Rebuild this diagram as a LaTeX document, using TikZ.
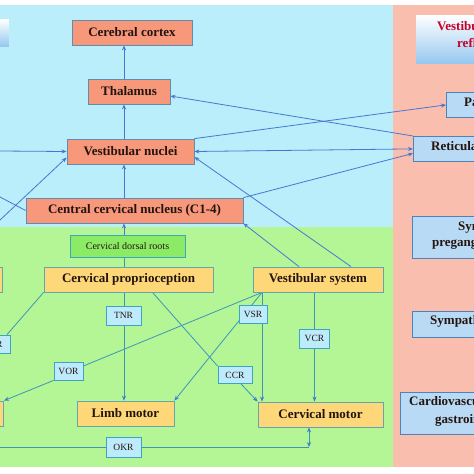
\documentclass[tikz,border=0pt]{standalone}
\usepackage{fontspec}
\setmainfont{Liberation Serif}
\usetikzlibrary{arrows.meta,calc}
\pgfdeclarelayer{back}
\pgfdeclarelayer{lines}
\pgfsetlayers{back,lines,main}
\definecolor{bgblue}{RGB}{185,238,250}
\definecolor{bggreen}{RGB}{180,245,150}
\definecolor{bgsalmon}{RGB}{250,190,175}
\definecolor{salfill}{RGB}{248,152,122}
\definecolor{salborder}{RGB}{95,140,175}
\definecolor{yfill}{RGB}{253,215,120}
\definecolor{yborder}{RGB}{100,165,175}
\definecolor{tagfill}{RGB}{190,235,252}
\definecolor{tagborder}{RGB}{60,165,195}
\definecolor{cdrfill}{RGB}{140,235,100}
\definecolor{rfill}{RGB}{185,218,245}
\definecolor{rborder}{RGB}{80,130,185}
\definecolor{titleblue}{RGB}{150,200,240}
\definecolor{titlered}{RGB}{200,0,40}
\definecolor{ucol}{RGB}{70,120,210}
\definecolor{lcol}{RGB}{60,150,185}
\definecolor{txt}{RGB}{35,20,15}
\begin{document}
\begin{tikzpicture}[x=1pt,y=-1pt,
  box/.style={draw, line width=0.8pt, inner sep=0pt, text=txt,
    font=\fontsize{13}{15}\selectfont\bfseries},
  snode/.style={box, fill=salfill, draw=salborder},
  ynode/.style={box, fill=yfill, draw=yborder},
  tag/.style={draw=tagborder, fill=tagfill, line width=0.8pt, inner sep=0pt,
    text=txt, font=\fontsize{9.5}{11}\selectfont},
  rbox/.style={draw=rborder, fill=rfill, line width=0.8pt, inner sep=0pt, anchor=north west},
  rtext/.style={anchor=mid west, inner sep=0pt, text=txt,
    font=\fontsize{13}{15}\selectfont\bfseries},
  ttext/.style={rtext, text=titlered},
  uline/.style={draw=ucol, line width=0.8pt},
  uarr/.style={uline, -{Stealth[length=5pt,width=4pt]}},
  udarr/.style={uline, {Stealth[length=5pt,width=4pt]}-{Stealth[length=5pt,width=4pt]}},
  lline/.style={draw=lcol, line width=0.8pt},
  larr/.style={lline, -{Stealth[length=5pt,width=4pt,color=ucol]}},
  ldarr/.style={lline, {Stealth[length=5pt,width=4pt,color=ucol]}-{Stealth[length=5pt,width=4pt,color=ucol]}}
]
\useasboundingbox (0,0) rectangle (474,474);
\clip (0,0) rectangle (474,474);
\begin{pgfonlayer}{back}
\fill[white] (0,0) rectangle (474,474);
\fill[bgblue] (0,5) rectangle (393,227);
\fill[bggreen] (0,227) rectangle (393,467);
\fill[bgsalmon] (393,5) rectangle (474,467);
\end{pgfonlayer}

% left title box (cut off)
\node[anchor=north east, minimum width=40pt, minimum height=27pt, inner sep=0pt,
  top color=white, bottom color=titleblue] (ltitle) at (9,19) {};

% main nodes
\node[snode, minimum width=120pt, minimum height=25pt] (cortex) at (132,32.5) {Cerebral cortex};
\node[snode, minimum width=82pt, minimum height=25pt] (thal) at (129,91.5) {Thalamus};
\node[snode, minimum width=127pt, minimum height=25pt] (vn) at (130.5,151.5) {Vestibular nuclei};
\node[snode, minimum width=217pt, minimum height=25pt] (ccn) at (134.5,210.5) {Central cervical nucleus (C1-4)};
\node[draw=tagborder, fill=cdrfill, line width=0.8pt, inner sep=0pt, text=txt,
  font=\fontsize{10}{12}\selectfont, minimum width=115pt, minimum height=22pt] (cdr) at (127.5,246) {Cervical dorsal roots};
\node[ynode, minimum width=169pt, minimum height=25pt] (cp) at (128.5,279.5) {Cervical proprioception};
\node[ynode, minimum width=130pt, minimum height=25pt] (vs) at (318,279.5) {Vestibular system};
\node[ynode, minimum width=97pt, minimum height=25pt] (limb) at (125.5,413.5) {Limb motor};
\node[ynode, minimum width=125pt, minimum height=25pt] (cm) at (320.5,414.5) {Cervical motor};
\node[ynode, anchor=east, minimum width=100pt, minimum height=25pt] (lyt) at (3,279.5) {};
\node[ynode, anchor=east, minimum width=100pt, minimum height=25pt] (lyb) at (4,413.5) {};

% right column
\node[anchor=north west, minimum width=110pt, minimum height=48pt, inner sep=0pt,
  top color=white, bottom color=titleblue] (title) at (416,15) {};
\node[ttext] (title1) at (437,28) {Vestibular};
\node[ttext] (title2) at (457,45) {reflex};
\node[rbox, minimum width=130pt, minimum height=25pt] (pa) at (446,92) {};
\node[rtext] (patext) at (464,104) {Parabrachial nucleus};
\node[rbox, minimum width=150pt, minimum height=25pt] (ret) at (413,136) {};
\node[rtext] (rettext) at (431,148) {Reticular formation};
\node[rbox, minimum width=150pt, minimum height=42pt] (symp) at (412,216) {};
\node[rtext] (symp1) at (458,228) {Sympathetic};
\node[rtext] (symp2) at (432,244) {preganglionic neurons};
\node[rbox, minimum width=150pt, minimum height=26pt] (sympn) at (412,311) {};
\node[rtext] (sympntext) at (430,322) {Sympathetic nerves};
\node[rbox, minimum width=160pt, minimum height=42pt] (cardio) at (400,392) {};
\node[rtext] (cardio1) at (409,403) {Cardiovascular and};
\node[rtext] (cardio2) at (435,421) {gastrointestinal};

% tags on connectors
\node[tag, minimum width=35pt, minimum height=19pt] (tnr) at (123.5,315.5) {TNR};
\node[tag, minimum width=28pt, minimum height=18pt] (vsr) at (253,314) {VSR};
\node[tag, minimum width=30pt, minimum height=19pt] (vcr) at (314.5,338.5) {VCR};
\node[tag, anchor=east, minimum width=36pt, minimum height=18pt] (cor) at (11,344) {COR};
\node[tag, minimum width=29pt, minimum height=18pt] (vor) at (68.5,371) {VOR};
\node[tag, minimum width=34pt, minimum height=17pt] (ccr) at (235,375) {CCR};
\node[tag, minimum width=35pt, minimum height=20pt] (okr) at (123.5,447) {OKR};

% helper coordinates
\coordinate (ax) at (124,0);
\coordinate (lA) at (0,151);
\coordinate (lB) at (0,220);
\coordinate (lC) at (0,197);
\coordinate (okL) at (0,447);
\coordinate (okc) at (309,447);
\coordinate (vsb) at ($(vs.south)+(-56,0)$);

\begin{pgfonlayer}{lines}
% upper connectors
\draw[uarr] (thal.north -| ax) -- (cortex.south -| ax);
\draw[uarr] (vn.north -| ax) -- (thal.south -| ax);
\draw[uarr] (ccn.north -| ax) -- (vn.south -| ax);
\draw[uarr] (cdr.north -| ax) -- (ccn.south -| ax);
\draw[uarr] (ret.north west) -- ([yshift=-4.5pt]thal.east);
\draw[uarr] (vn.north east) -- (pa.west);
\draw[udarr] (vn.east) -- (ret.west);
\draw[uarr] (ccn.north east) -- ([yshift=-4.5pt]ret.west);
\draw[uarr] ([xshift=33pt]vs.north) -- ([yshift=-5.5pt]vn.east);
\draw[uarr] ([xshift=-19pt]vs.north) -- (ccn.south east);
\draw[uarr] (lA) -- (vn.west);
\draw[uarr] (lB) -- ([yshift=-6pt]vn.west);
\draw[uline] (lC) -- (ccn.west);

% lower connectors
\draw[lline] (cp.north -| ax) -- (cdr.south -| ax);
\draw[lline] (cp.south -| ax) -- (tnr.north -| ax);
\draw[larr] (tnr.south -| ax) -- (limb.north -| ax);
\draw[lline] (cp.south west) -- ([xshift=-4pt]cor.north east);
\draw[lline] ([xshift=24pt]cp.south) -- (ccr.north west);
\draw[larr] ([xshift=6pt]ccr.south) -- (cm.north west);
\draw[lline] (vsb) -- ([yshift=5pt]vor.east);
\draw[larr] (vor.south west) -- (lyb.north east);
\draw[larr] (vsb) -- (limb.north east);
\draw[larr] (vsb) -- (vsb |- cm.north);
\draw[lline] (vcr.north |- vs.south) -- (vcr.north);
\draw[larr] (vcr.south) -- (vcr.south |- cm.north);
\draw[lline] (okL) -- (okc);
\draw[ldarr] (okc) -- (okc |- cm.south);
\end{pgfonlayer}
\end{tikzpicture}
\end{document}
